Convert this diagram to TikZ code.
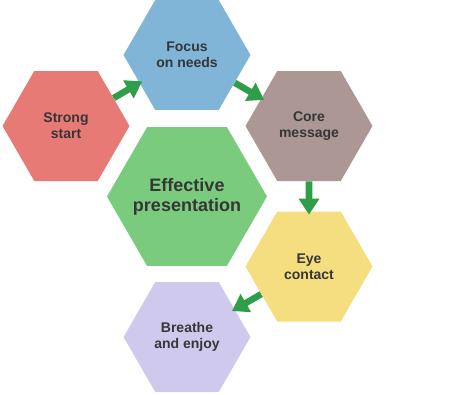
\documentclass[tikz,border=0pt]{standalone}
\usepackage{fontspec}
\setmainfont{Liberation Sans}
\usetikzlibrary{shapes.geometric,arrows.meta}
\definecolor{startred}{HTML}{E87A76}
\definecolor{needsblue}{HTML}{80B5D8}
\definecolor{coremauve}{HTML}{AD9795}
\definecolor{centergreen}{HTML}{7BCB7F}
\definecolor{eyeyellow}{HTML}{F5DE80}
\definecolor{breathelilac}{HTML}{CFC9EE}
\definecolor{arrowgreen}{HTML}{2E9E48}
\definecolor{textgray}{HTML}{363636}
\tikzset{
	hexa/.style={regular polygon, regular polygon sides=6, minimum size=95.25pt, inner sep=0pt, align=center, text=textgray, font=\bfseries\fontsize{10.5}{12}\selectfont},
	flow/.style={draw=arrowgreen, line width=4.9pt, -{Triangle[width=15pt,length=12pt]}, shorten >=-2.5pt}
}
\begin{document}
\begin{tikzpicture}[x=0.75pt, y=-0.75pt]
		\useasboundingbox (0,0) rectangle (464,394);
		\node[hexa, fill=startred] (strong) at (66,126) {Strong\\start};
		\node[hexa, fill=needsblue] (focus) at (187,55) {Focus\\on needs};
		\node[hexa, fill=coremauve] (core) at (309,126) {Core\\message};
		\node[hexa, fill=eyeyellow] (eye) at (309,266.5) {Eye\\contact};
		\node[hexa, fill=breathelilac] (breathe) at (187,337) {Breathe\\and enjoy};
		\node[hexa, fill=centergreen, minimum size=120pt, inner sep=-15pt, font=\bfseries\fontsize{13.5}{15}\selectfont] (effective) at (187,196.5) {Effective\\presentation};
		\draw[flow] (strong) -- (focus);
		\draw[flow] (focus) -- (core);
		\draw[flow] (core) -- (eye);
		\draw[flow] (eye) -- (breathe);
\end{tikzpicture}
\end{document}
